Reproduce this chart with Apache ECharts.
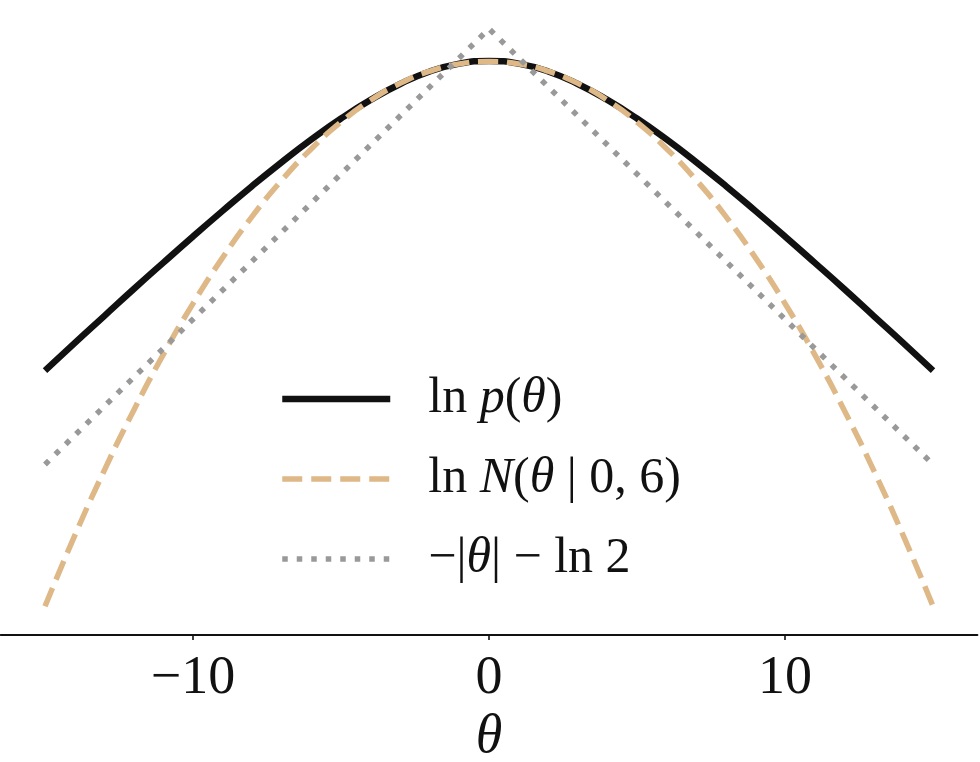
<!DOCTYPE html>
<html><head><meta charset="utf-8">
<script src="https://cdn.jsdelivr.net/npm/echarts@6/dist/echarts.min.js"></script>
<style>html,body{margin:0;padding:0;background:#fff}#c{width:980px;height:762px}</style>
</head><body><div id="c"></div>
<script>
// theta grid
const theta = [-15,-14,-13,-12,-11,-10,-9,-8,-7,-6,-5,-4,-3,-2,-1,0,1,2,3,4,5,6,7,8,9,10,11,12,13,14,15];
// ln p(theta)
const lnP = [-12.46,-11.51,-10.58,-9.65,-8.74,-7.84,-6.96,-6.10,-5.28,-4.50,-3.78,-3.14,-2.59,-2.16,-1.89,-1.80,-1.89,-2.16,-2.59,-3.14,-3.78,-4.50,-5.28,-6.10,-6.96,-7.84,-8.74,-9.65,-10.58,-11.51,-12.46];
// ln N(theta | 0, 6)
const lnNormal = [-20.57,-18.15,-15.90,-13.82,-11.90,-10.15,-8.57,-7.15,-5.90,-4.82,-3.90,-3.15,-2.57,-2.15,-1.90,-1.82,-1.90,-2.15,-2.57,-3.15,-3.90,-4.82,-5.90,-7.15,-8.57,-10.15,-11.90,-13.82,-15.90,-18.15,-20.57];
// -|theta| - ln 2
const laplaceTheta = [-15, 0, 15];
const laplaceValues = [-15.69, -0.69, -15.69];
const xTicks = [-10, 0, 10];
const legendNames = ['lnp', 'lnN', 'lap'];

const FONT = 'Liberation Serif';
const zip = (xs, ys) => xs.map((x, i) => [x, ys[i]]);
const legendRich = {
  lnp: '{r|ln }{i|p}{r|(}{i|θ}{r|)}',
  lnN: '{r|ln }{i|N}{r|(}{i|θ}{r| | 0, 6)}',
  lap: '{r|−|}{i|θ}{r|| − ln 2}'
};
const hidden = {opacity: 0, borderWidth: 0};

const chart = echarts.init(document.getElementById('c'), null, {renderer: 'canvas'});
chart.setOption({
  animation: false,
  backgroundColor: '#ffffff',
  grid: {left: 0.6, right: 2.6, top: 0, bottom: 127, outerBoundsMode: 'none', containLabel: false},
  xAxis: {
    type: 'value', min: -16.5, max: 16.5,
    name: 'θ', nameLocation: 'middle', nameGap: 74,
    nameTextStyle: {fontFamily: FONT, fontStyle: 'italic', fontSize: 54, color: '#111'},
    axisLine: {onZero: false, lineStyle: {color: '#111', width: 2}},
    axisTick: {customValues: xTicks, length: 5, lineStyle: {color: '#111', width: 1.6}},
    axisLabel: {customValues: xTicks, margin: 17, fontFamily: FONT, fontSize: 54, color: '#111',
      formatter: v => String(v).replace('-', '−')},
    splitLine: {show: false}
  },
  yAxis: {type: 'value', min: -21.56, max: 0.30, show: false, splitLine: {show: false}},
  legend: {
    orient: 'vertical', left: 274, top: 369, itemGap: 30, itemWidth: 108, itemHeight: 50,
    selectedMode: false,
    data: [
      {name: 'lnp', lineStyle: {width: 6.5}, itemStyle: hidden},
      {name: 'lnN', lineStyle: {width: 5.5}, itemStyle: hidden},
      {name: 'lap', lineStyle: {width: 5.5}, itemStyle: hidden}
    ],
    formatter: n => legendRich[n],
    textStyle: {
      padding: [0, 0, 0, 33],
      rich: {
        r: {fontFamily: FONT, fontSize: 50, color: '#111', lineHeight: 50},
        i: {fontFamily: FONT, fontStyle: 'italic', fontSize: 50, color: '#111', lineHeight: 50}
      }
    }
  },
  series: [
    {name: legendNames[0], type: 'line', data: zip(theta, lnP), smooth: true, symbol: 'none',
     lineStyle: {color: '#111111', width: 6.5, cap: 'butt'}, itemStyle: {color: '#111111'}},
    {name: legendNames[1], type: 'line', data: zip(theta, lnNormal), smooth: true, symbol: 'none',
     lineStyle: {color: '#deb887', width: 5.5, type: [20, 9], cap: 'butt'}, itemStyle: {color: '#deb887'}},
    {name: legendNames[2], type: 'line', data: zip(laplaceTheta, laplaceValues), symbol: 'none',
     lineStyle: {color: '#999999', width: 5.5, type: [5.5, 9], cap: 'butt'}, itemStyle: {color: '#999999'}}
  ]
});
</script>
</body></html>
